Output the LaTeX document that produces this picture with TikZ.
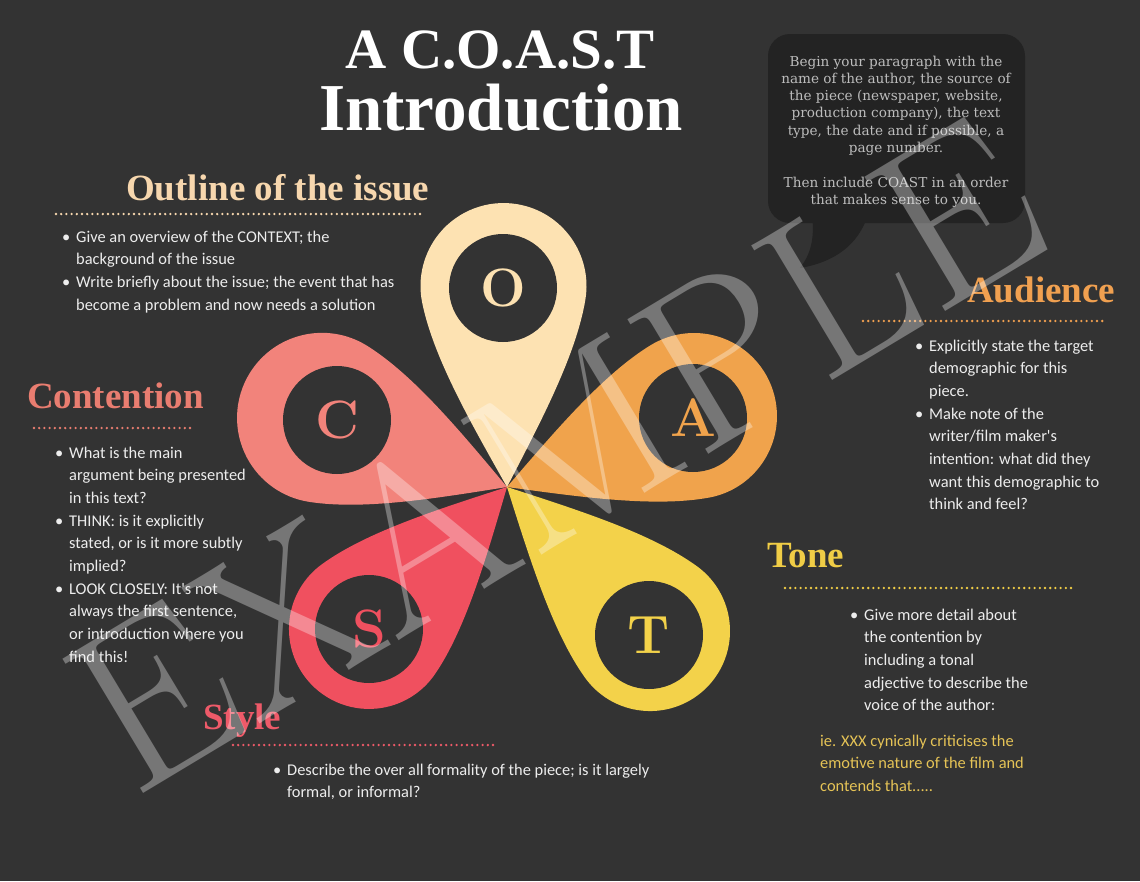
\documentclass[tikz,border=0pt]{standalone}
\usepackage{fontspec}
\usetikzlibrary{calc}
\newfontfamily\bodyfont{Carlito}
\newfontfamily\headfont{Liberation Serif}
\newfontfamily\bubfont{DejaVu Serif}
\definecolor{bg}{HTML}{333333}
\definecolor{bubc}{HTML}{232323}
\definecolor{bodytext}{HTML}{EDEDED}
\definecolor{bubtext}{HTML}{BDBDBD}
\definecolor{tonetext}{HTML}{E5C356}
\definecolor{ocol}{HTML}{FDE2B2}
\definecolor{ohead}{HTML}{F7D7AE}
\definecolor{ccol}{HTML}{F2837B}
\definecolor{chead}{HTML}{E97D70}
\definecolor{acol}{HTML}{F0A34C}
\definecolor{ahead}{HTML}{F0A050}
\definecolor{scol}{HTML}{F0505F}
\definecolor{shead}{HTML}{EE5A69}
\definecolor{tcol}{HTML}{F3D24A}
\definecolor{thead}{HTML}{F0CD46}
\newcommand\bl{\makebox[14pt][l]{\textbullet}}
\newcommand\ind{\hspace*{14pt}}
\newcommand\coastpin[4]{%
  \begin{scope}[shift={(507,487)}, rotate=#2]
    \pgfmathsetmacro\pa{asin(#4/#3)}
    \pgfmathsetmacro\pp{90+\pa-14}
    \pgfmathsetmacro\pe{\pa-14}
    \pgfmathsetmacro\ps{\pa+4}
    \pgfmathsetmacro\pL{0.36*#3}
    \pgfmathsetmacro\pM{0.28*#3}
    \fill[#1] (0,0) .. controls (\ps:\pL) and ($(#3,0)+(\pp:#4)+(\pe+180:\pM)$) .. ($(#3,0)+(\pp:#4)$)
      arc[start angle=\pp, end angle=-\pp, radius=#4]
      .. controls ($(#3,0)+(-\pp:#4)+(-\pe+180:\pM)$) and (-\ps:\pL) .. (0,0) -- cycle;
  \end{scope}}
\begin{document}
\begin{tikzpicture}[x=1pt,y=-1pt,
  body/.style={font=\bodyfont\fontsize{16.4}{22.7}\selectfont, text=bodytext, inner sep=0, anchor=base west},
  head/.style={font=\headfont\bfseries\fontsize{37}{37}\selectfont, inner sep=0, anchor=base west},
  title/.style={font=\headfont\bfseries, text=white, inner sep=0, anchor=base},
  dots/.style={line width=2.6pt, line cap=round, dash pattern=on 0pt off 5.2pt},
  hole/.style={circle, fill=bg, minimum size=108pt, inner sep=0, font=\bfseries\fontsize{54}{54}\selectfont},
  wm/.style={font=\fontsize{230}{230}\selectfont, text=white, text opacity=0.33, inner sep=0}]
\fill[bg] (0,0) rectangle (1140,881);
\useasboundingbox (0,0) rectangle (1140,881);
% title
\node[title, font=\headfont\bfseries\fontsize{57}{57}\selectfont] (t1) at (500,68) {A C.O.A.S.T};
\node[title, font=\headfont\bfseries\fontsize{67}{67}\selectfont] (t2) at (501,130) {Introduction};
% speech bubble
\fill[bubc, rounded corners=22pt] (768,34) rectangle (1025,223);
\fill[bubc] (812,215) .. controls (815,240) and (810,255) .. (800,268) .. controls (835,262) and (858,245) .. (868,215) -- cycle;
\node[font=\bubfont\fontsize{13.6}{17.3}\selectfont, text=bubtext, inner sep=0, anchor=base] (bub) at (896,66) {\begin{tabular}[t]{@{}c@{}}
Begin your paragraph with the\\
name of the author, the source of\\
the piece (newspaper, website,\\
production company), the text\\
type, the date and if possible, a\\
page number.\\
\\
Then include COAST in an order\\
that makes sense to you.
\end{tabular}};
% petals
\coastpin{ccol}{159.5}{197.5}{85}
\coastpin{scol}{225.8}{198}{80}
\coastpin{tcol}{314.8}{203}{80}
\coastpin{acol}{20.8}{200}{83}
\coastpin{ocol}{91}{201}{83}
\node[hole, text=ocol] (po) at (503,288) {O};
\node[hole, text=ccol] (pc) at (337,420) {C};
\node[hole, text=acol] (pa) at (693,418) {A};
\node[hole, text=scol] (ps) at (369,629) {S};
\node[hole, text=tcol] (pt) at (649,635) {T};
% Outline
\node[head, text=ohead] (ho) at (126,200) {Outline of the issue};
\draw[dots, ohead] (56,214) -- (420,214);
\node[body] (bo) at (62,242) {\begin{tabular}[t]{@{}l@{}}
\bl Give an overview of the CONTEXT; the\\
\ind background of the issue\\
\bl Write briefly about the issue; the event that has\\
\ind become a problem and now needs a solution
\end{tabular}};
% Contention
\node[head, text=chead] (hc) at (27,408) {Contention};
\draw[dots, chead] (34,428) -- (190,428);
\node[body] (bc) at (55,458) {\begin{tabular}[t]{@{}l@{}}
\bl What is the main\\
\ind argument being presented\\
\ind in this text?\\
\bl THINK: is it explicitly\\
\ind stated, or is it more subtly\\
\ind implied?\\
\bl LOOK CLOSELY: It's not\\
\ind always the first sentence,\\
\ind or introduction where you\\
\ind find this!
\end{tabular}};
% Audience
\node[head, text=ahead] (ha) at (967,302) {Audience};
\draw[dots, ahead] (863,321) -- (1104,321);
\node[body] (ba) at (915,351) {\begin{tabular}[t]{@{}l@{}}
\bl Explicitly state the target\\
\ind demographic for this\\
\ind piece.\\
\bl Make note of the\\
\ind writer/film maker's\\
\ind intention: what did they\\
\ind want this demographic to\\
\ind think and feel?
\end{tabular}};
% Tone
\node[head, text=thead] (ht) at (767,567) {Tone};
\draw[dots, thead] (785,588) -- (1071,588);
\node[body] (bt) at (850,620) {\begin{tabular}[t]{@{}l@{}}
\bl Give more detail about\\
\ind the contention by\\
\ind including a tonal\\
\ind adjective to describe the\\
\ind voice of the author:
\end{tabular}};
\node[body, text=tonetext] (bt2) at (820,746) {\begin{tabular}[t]{@{}l@{}}
ie. XXX cynically criticises the\\
emotive nature of the film and\\
contends that.....
\end{tabular}};
% Style
\node[head, text=shead] (hs) at (203,729) {Style};
\draw[dots, shead] (233,745) -- (494,745);
\node[body] (bs) at (273,775) {\begin{tabular}[t]{@{}l@{}}
\bl Describe the over all formality of the piece; is it largely\\
\ind formal, or informal?
\end{tabular}};
% watermark
\node[wm, rotate=31] (wmk) at (555,452) {EXAMPLE};
\end{tikzpicture}
\end{document}
